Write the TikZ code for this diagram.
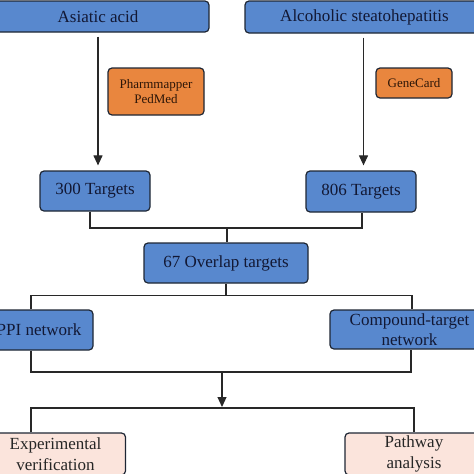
\documentclass[tikz,border=0pt]{standalone}
\usepackage{fontspec}
\setmainfont{Liberation Serif}
\usetikzlibrary{arrows.meta,calc}
\definecolor{boxblue}{RGB}{88,136,206}
\definecolor{boxorange}{RGB}{233,134,62}
\definecolor{boxpink}{RGB}{251,228,220}
\definecolor{edgedark}{RGB}{30,38,52}
\definecolor{txtnavy}{RGB}{18,24,52}
\definecolor{txtbrown}{RGB}{45,22,8}
\definecolor{linegray}{RGB}{40,40,40}
\tikzset{
  basebox/.style={draw=edgedark, line width=1.2pt, rounded corners=4pt, inner sep=0pt, align=center},
  bluebox/.style={basebox, fill=boxblue, text=txtnavy, font=\fontsize{17}{19.8}\selectfont},
  orangebox/.style={basebox, fill=boxorange, text=txtbrown, font=\fontsize{13}{15}\selectfont},
  pinkbox/.style={basebox, fill=boxpink, text=black!85, font=\fontsize{17}{20.5}\selectfont},
  conn/.style={draw=linegray, line width=1.1pt},
  arr/.style={conn, -{Triangle[width=9pt,length=10pt]}},
}
\begin{document}
\begin{tikzpicture}[x=1pt,y=-1pt]
\useasboundingbox (0,0) rectangle (474,474);
\node[bluebox, minimum width=222pt, minimum height=31pt] (asiatic) at (98,16.5) {Asiatic acid};
\node[bluebox, minimum width=239pt, minimum height=32pt] (alc) at (364.5,17) {Alcoholic steatohepatitis};
\node[orangebox, minimum width=96pt, minimum height=47pt] (pharm) at (156,91.5) {Pharmmapper\\PedMed};
\node[orangebox, minimum width=76pt, minimum height=30pt] (gene) at (414,83) {GeneCard};
\node[bluebox, minimum width=110pt, minimum height=40pt] (t300) at (95,191) {300 Targets};
\node[bluebox, minimum width=110pt, minimum height=41pt] (t806) at (361,191.5) {806 Targets};
\node[bluebox, minimum width=164pt, minimum height=40pt] (overlap) at (226,263) {67 Overlap targets};
\node[bluebox, minimum width=108pt, minimum height=40pt] (ppi) at (39,330) {PPI network};
\node[bluebox, minimum width=159pt, minimum height=39pt] (comp) at (409.5,329.5) {Compound-target\\network};
\node[pinkbox, minimum width=140pt, minimum height=42pt] (exp) at (55.5,454) {Experimental\\verification};
\node[pinkbox, minimum width=138pt, minimum height=42pt] (path) at (414,454) {Pathway\\analysis};
% coordinates
\coordinate (m1) at (227,228);
\coordinate (m2) at (222,372);
\coordinate (m3) at (222,407);
% top arrows
\draw[arr, shorten <=4pt, shorten >=5pt] (asiatic.south) -- (asiatic.south |- t300.north);
\draw[arr, shorten <=4pt, shorten >=5pt] ($(alc.south)+(-1,0)$) -- ($(alc.south |- t806.north)+(-1,0)$);
% merge targets
\draw[conn] ($(t300.south)+(-5,0)$) |- (m1) -| ($(t806.south)+(1,0)$);
\draw[conn] (m1) -- (m1 |- overlap.north);
% split to networks
\draw[conn] (overlap.south) -- ++(0,12) coordinate (m4);
\draw[conn] ($(ppi.north)+(-8,0)$) |- (m4) -| ($(comp.north)+(2.5,0)$);
% merge networks
\draw[conn] ($(ppi.south)+(-8,0)$) |- (m2) -| ($(comp.south)+(1.5,0)$);
\draw[arr] (m2) -- (m3);
% split to results
\draw[conn] ($(exp.north)+(-24.5,0)$) |- ($(m3)+(0,1)$) -| (path.north);
\end{tikzpicture}
\end{document}
